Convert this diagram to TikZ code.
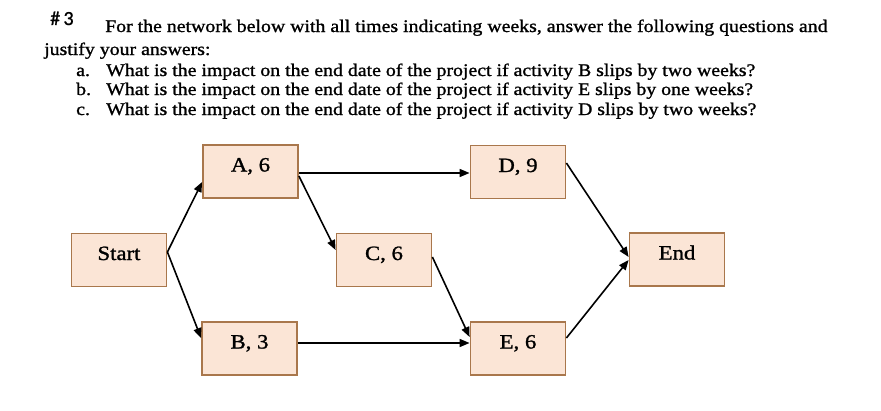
\documentclass[tikz,border=0pt]{standalone}
\usepackage{fontspec}
\setmainfont{Liberation Serif}[FakeStretch=1.12, FakeBold=1.2]
\newfontfamily\hashfont{Carlito}[FakeBold=1]
\usetikzlibrary{arrows.meta}
\definecolor{boxfill}{HTML}{FBE5D6}
\definecolor{boxline}{HTML}{A9774C}
\tikzset{
  actbox/.style={draw=boxline, fill=boxfill, line width=1.8pt, minimum width=95pt,
    minimum height=53pt, inner sep=0pt, text height=26.5pt, text depth=26.5pt,
    font=\fontsize{20.3}{20.3}\selectfont},
  conn/.style={line width=1.6pt, -{Triangle[length=10pt,width=8pt]}},
  qtext/.style={anchor=base west, inner sep=0pt, font=\fontsize{17.7}{17.7}\selectfont}
}
\begin{document}
\begin{tikzpicture}[x=1pt,y=-1pt]
\useasboundingbox (0,0) rectangle (881,410);
% header
\node[anchor=base west, inner sep=0pt, font=\hashfont\fontsize{20}{20}\selectfont] (h3) at (50,25) {\#\,3};
\node[qtext] (l1) at (105,32) {For the network below with all times indicating weeks, answer the following questions and};
\node[qtext] (l2) at (44,55) {justify your answers:};
\node[qtext] (qa) at (76,76) {a.};
\node[qtext] (ta) at (106,76) {What is the impact on the end date of the project if activity B slips by two weeks?};
\node[qtext] (qb) at (76,95) {b.};
\node[qtext] (tb) at (106,95) {What is the impact on the end date of the project if activity E slips by one weeks?};
\node[qtext] (qc) at (76,115) {c.};
\node[qtext] (tc) at (106,115) {What is the impact on the end date of the project if activity D slips by two weeks?};
% boxes
\node[actbox] (s) at (119,260) {Start};
\node[actbox] (a) at (250.5,171.5) {A, 6};
\node[actbox] (b) at (249.5,348.5) {B, 3};
\node[actbox] (c) at (384,260) {C, 6};
\node[actbox] (d) at (518,172) {D, 9};
\node[actbox] (e) at (518,348.5) {E, 6};
\node[actbox] (en) at (677,259.5) {End};
% connectors
\draw[conn] ([yshift=8pt]s.east) -- ([yshift=-10.5pt]a.west);
\draw[conn] ([yshift=8pt]s.east) -- ([yshift=10.5pt]b.west);
\draw[conn] ([yshift=-1.5pt]a.east) -- ([yshift=-1.5pt]a.east -| d.west);
\draw[conn] ([yshift=-4.5pt]a.east) -- ([yshift=10pt]c.west);
\draw[conn] ([yshift=3pt]c.east) -- ([yshift=11.5pt]e.west);
\draw[conn] ([yshift=5.5pt]b.east) -- ([yshift=5.5pt]b.east -| e.west);
\draw[conn] ([yshift=9pt]d.east) -- ([yshift=2.5pt]en.west);
\draw[conn] ([yshift=10.5pt]e.east) -- ([yshift=-0.5pt]en.west);
\end{tikzpicture}
\end{document}
